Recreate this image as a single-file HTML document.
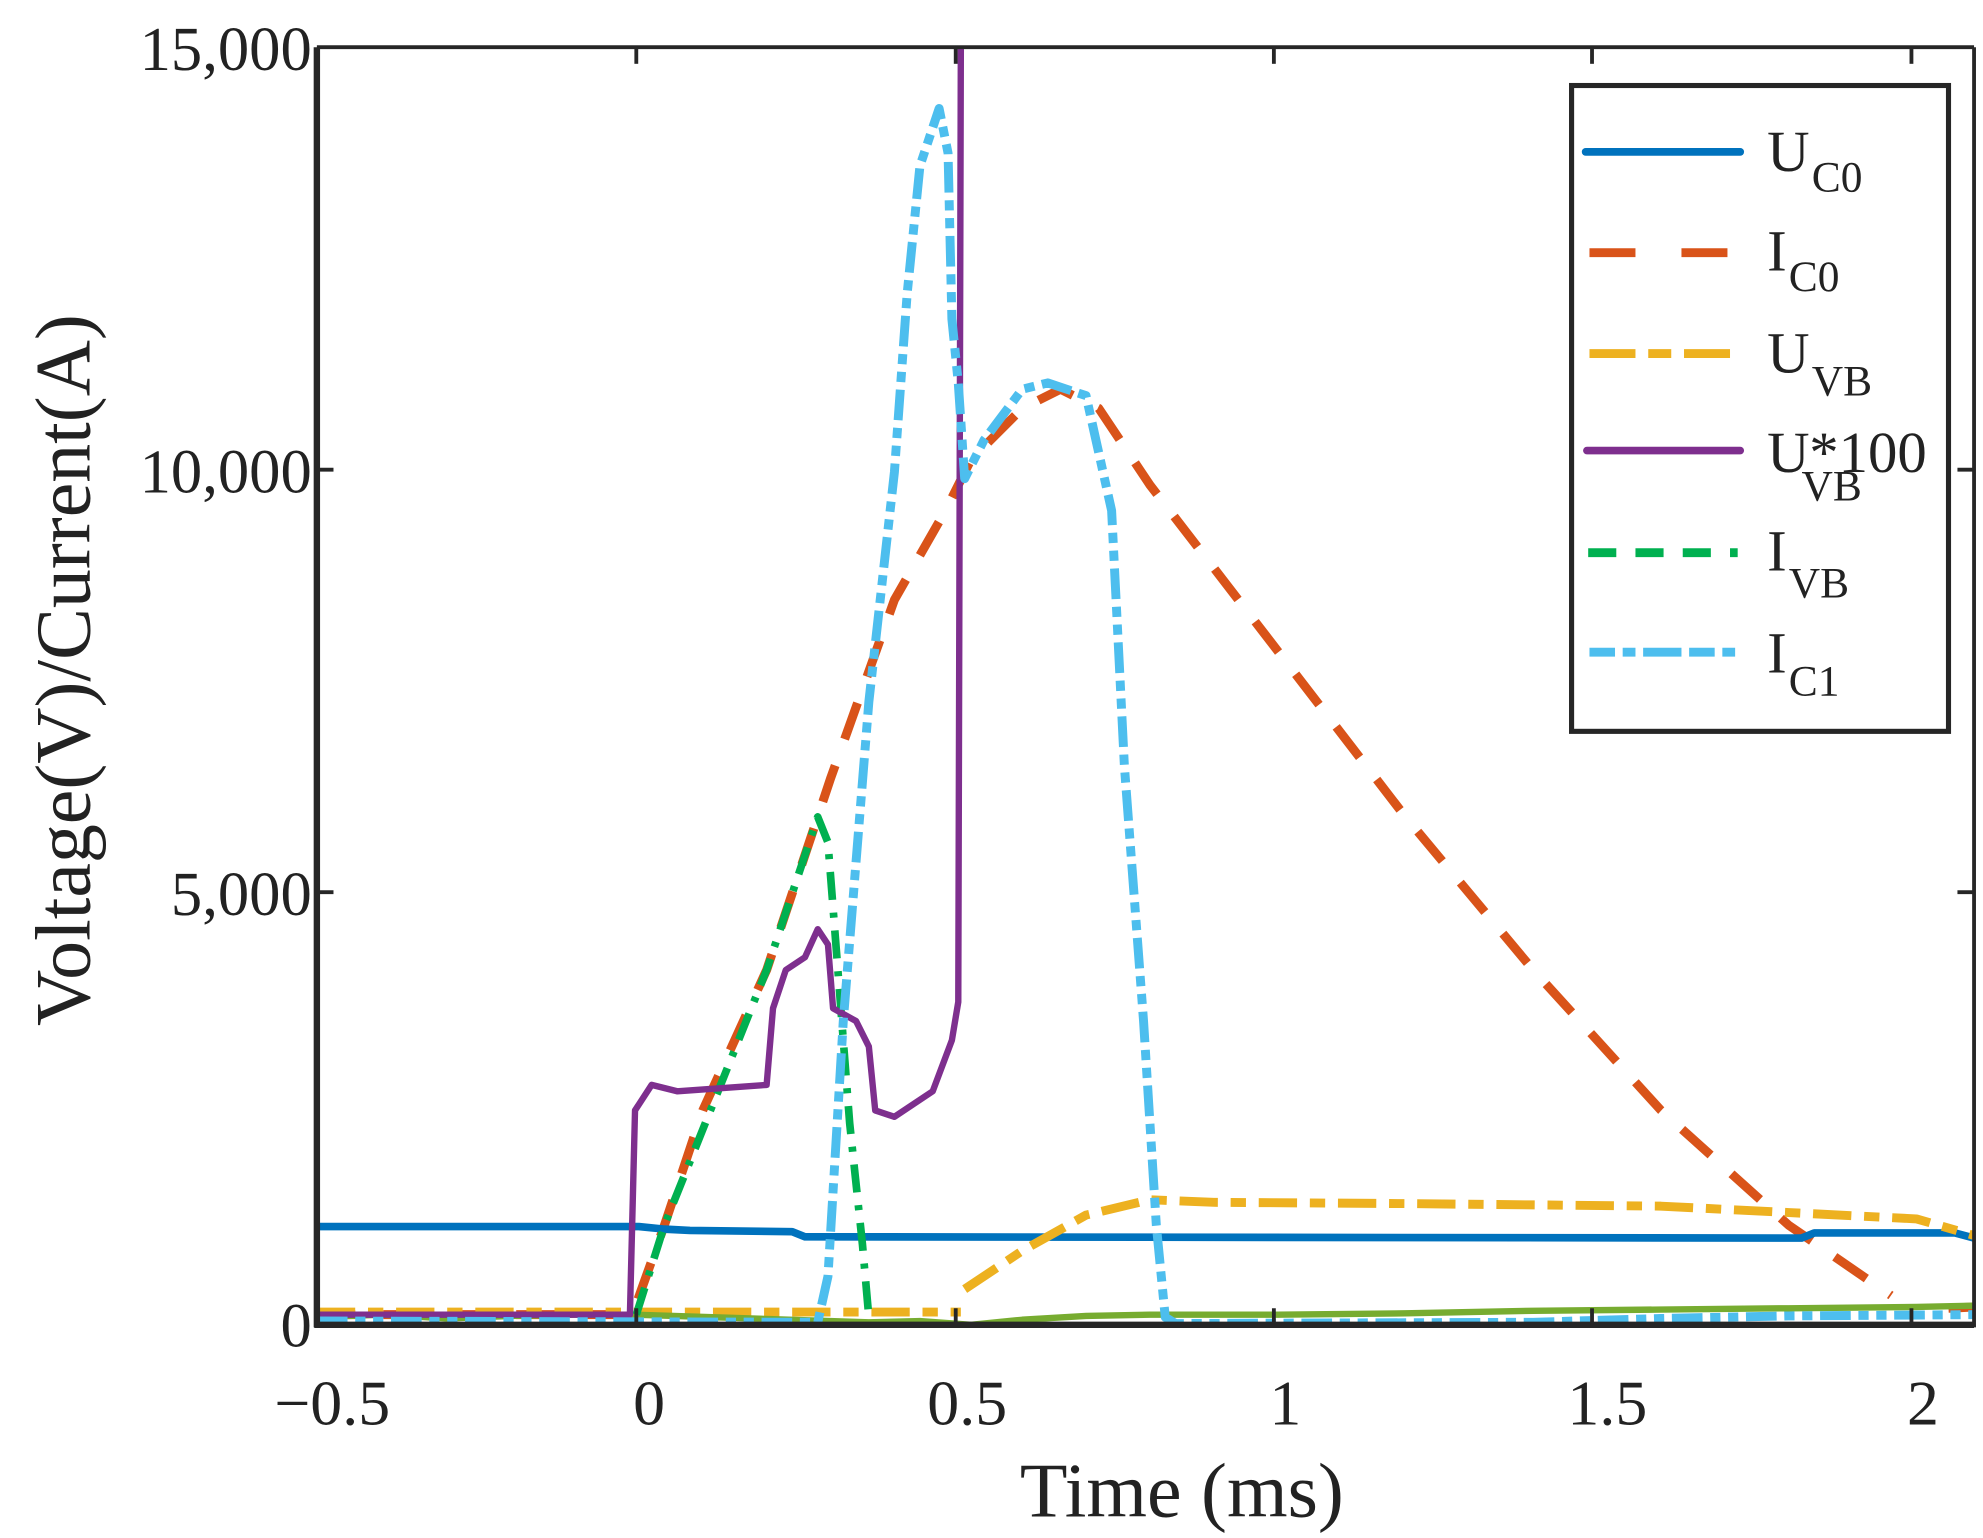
<!DOCTYPE html>
<html><head><meta charset="utf-8"><style>
html,body{margin:0;padding:0;background:#fff;}
svg{display:block;}
text{font-family:"Liberation Serif",serif;fill:#222;}
</style></head><body>
<svg width="1983" height="1538" viewBox="0 0 1552 1205" preserveAspectRatio="none" xmlns="http://www.w3.org/2000/svg">
<rect width="1552" height="1205" fill="#fff"/>
<g fill="none" stroke-linejoin="round">
<polyline stroke="#D95319" stroke-width="7" stroke-dasharray="30,22" points="248,1030 495,1030 520,960 550,870 600,760 650,610 700,470 740,400 760,360 800,320 830,305 860,320 900,380 1000,510 1100,640 1200,760 1300,870 1400,960 1480,1015"/>
<polyline stroke="#D95319" stroke-width="7" points="1525,1025 1545,1024"/>
<polyline stroke="#0072BD" stroke-width="6" points="248,961 500,961 520,963 540,964 620,965 630,969 1410,970 1420,966 1530,966 1545,970"/>
<polyline stroke="#EDB120" stroke-width="7" stroke-dasharray="30,10,12,10" points="248,1028 752,1028"/>
<polyline stroke="#EDB120" stroke-width="7" stroke-dasharray="30,10,12,10" points="755,1010 800,980 850,952 900,940 950,942 1100,943 1300,945 1400,950 1500,955 1545,968"/>
<polyline stroke="#77AC30" stroke-width="5" points="248,1032 300,1030 350,1033 400,1031 450,1030 495,1030 680,1036 720,1035 760,1038 800,1034 850,1031 900,1030 1000,1030 1100,1029 1200,1027 1300,1026 1400,1025 1500,1024 1545,1023"/>
<polyline stroke="#00B050" stroke-width="6" stroke-dasharray="22,10,4,10" points="498,1030 520,960 560,860 600,760 640,640 648,660 655,750 665,880 675,975 680,1032"/>
<polyline stroke="#7E2F8E" stroke-width="5" points="248,1030 493,1030 497,870 510,850 530,855 600,850 605,790 615,760 630,750 640,728 648,740 652,790 670,800 680,820 685,870 700,875 730,855 745,815 750,785 752,37"/>
<polyline stroke="#4DBEEE" stroke-width="7" stroke-dasharray="24,6,8,6,8,6" points="248,1035 640,1036 648,1000 660,800 680,550 700,370 710,230 720,130 735,85 742,120 745,250 750,300 755,375 770,345 800,305 820,300 850,310 870,400 880,600 895,800 905,960 912,1032 920,1037 1200,1036 1300,1033 1400,1031 1545,1030"/>
</g>
<g stroke="#262626" fill="none">
<line x1="248" y1="37" x2="248" y2="1040" stroke-width="5"/>
<line x1="246" y1="1038" x2="1545" y2="1038" stroke-width="5"/>
<line x1="248" y1="37" x2="1545" y2="37" stroke-width="3"/>
<line x1="1545" y1="37" x2="1545" y2="1040" stroke-width="3"/>
<g stroke-width="3">
<line x1="498" y1="37" x2="498" y2="50"/><line x1="748" y1="37" x2="748" y2="50"/><line x1="997" y1="37" x2="997" y2="50"/><line x1="1246" y1="37" x2="1246" y2="50"/><line x1="1496" y1="37" x2="1496" y2="50"/>
<line x1="498" y1="1038" x2="498" y2="1025"/><line x1="748" y1="1038" x2="748" y2="1025"/><line x1="997" y1="1038" x2="997" y2="1025"/><line x1="1246" y1="1038" x2="1246" y2="1025"/><line x1="1496" y1="1038" x2="1496" y2="1025"/>
<line x1="248" y1="368" x2="261" y2="368"/><line x1="248" y1="699" x2="261" y2="699"/>
<line x1="1545" y1="368" x2="1532" y2="368"/><line x1="1545" y1="699" x2="1532" y2="699"/>
</g>
</g>
<g font-size="49" text-anchor="end">
<text x="244" y="55">15,000</text>
<text x="244" y="386">10,000</text>
<text x="244" y="717">5,000</text>
<text x="244" y="1055">0</text>
</g>
<g font-size="50" text-anchor="middle">
<text x="260" y="1116">−0.5</text>
<text x="508" y="1116">0</text>
<text x="757" y="1116">0.5</text>
<text x="1006" y="1116">1</text>
<text x="1258" y="1116">1.5</text>
<text x="1505" y="1116">2</text>
</g>
<text x="925" y="1188" font-size="61" text-anchor="middle">Time (ms)</text>
<text transform="translate(70,525) rotate(-90)" font-size="61" text-anchor="middle">Voltage(V)/Current(A)</text>
<rect x="1230" y="67" width="295" height="506" fill="#fff" stroke="#262626" stroke-width="4"/>
<g fill="none" stroke-width="6">
<line x1="1241" y1="119" x2="1362" y2="119" stroke="#0072BD" stroke-linecap="round"/>
<line x1="1244" y1="198" x2="1359" y2="198" stroke="#D95319" stroke-width="7" stroke-dasharray="36,36"/>
<line x1="1244" y1="277" x2="1359" y2="277" stroke="#EDB120" stroke-width="7" stroke-dasharray="36,10,18,10"/>
<line x1="1242" y1="353" x2="1362" y2="353" stroke="#7E2F8E" stroke-linecap="round"/>
<line x1="1243" y1="433" x2="1360" y2="433" stroke="#00B050" stroke-width="7" stroke-dasharray="22,15,22,15,22,15,6"/>
<line x1="1244" y1="511" x2="1362" y2="511" stroke="#4DBEEE" stroke-width="7" stroke-dasharray="20,6,10,6,30,6"/>
</g>
<g font-size="46">
<text x="1383" y="134">U</text><text x="1418" y="150" font-size="34">C0</text>
<text x="1383" y="212">I</text><text x="1400" y="228" font-size="34">C0</text>
<text x="1383" y="292">U</text><text x="1418" y="310" font-size="34">VB</text>
<text x="1383" y="370">U</text><text x="1410" y="392" font-size="34">VB</text><text x="1416" y="370">*100</text>
<text x="1383" y="447">I</text><text x="1400" y="468" font-size="34">VB</text>
<text x="1383" y="527">I</text><text x="1400" y="545" font-size="34">C1</text>
</g>
</svg>
</body></html>
